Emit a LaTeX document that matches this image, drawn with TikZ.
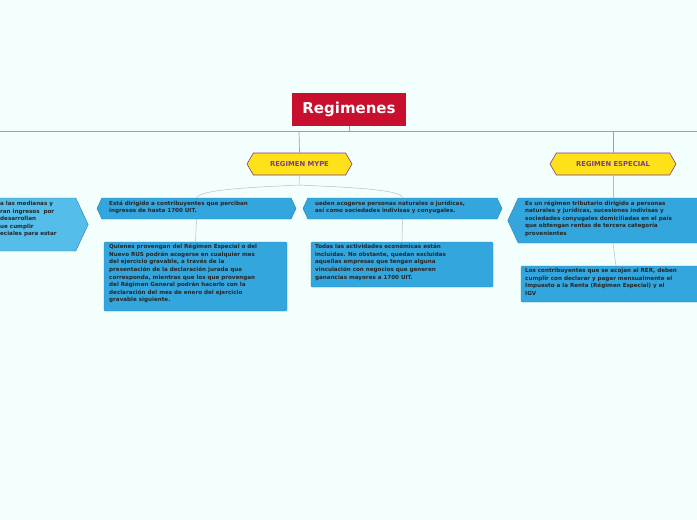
\documentclass[tikz,border=0pt]{standalone}
\usepackage{fontspec}
\setmainfont{DejaVu Sans}
\usetikzlibrary{shapes.symbols}
\definecolor{bg}{HTML}{F3FFFD}
\definecolor{tred}{HTML}{C8102E}
\definecolor{yel}{HTML}{FFE11A}
\definecolor{purp}{HTML}{7A3C8C}
\definecolor{blu}{HTML}{34A6DE}
\definecolor{blul}{HTML}{55BDEA}
\definecolor{bord}{HTML}{2F7FA8}
\definecolor{ln}{HTML}{9AA3A3}
\tikzset{
  txt/.style={font=\fontsize{5.6}{7.6}\selectfont\bfseries, text=black!85, align=left, inner sep=0pt},
  mainhead/.style={signal, signal to=west and east, signal pointer angle=120, fill=yel, draw=purp, line width=0.6pt, text=purp, font=\fontsize{6.8}{8}\selectfont\bfseries, minimum height=22pt, inner sep=0pt},
  hexbox/.style={signal, signal pointer angle=130, fill=blu, draw=bord, line width=0.4pt, minimum height=21pt, inner sep=0pt},
  rectbox/.style={fill=blu, draw=blu!80!black, line width=0.3pt, rounded corners=1pt},
  conn/.style={draw=ln, line width=0.7pt},
  thin/.style={draw=ln!70, line width=0.5pt},
}
\begin{document}
\begin{tikzpicture}[x=1pt,y=-1pt]
\useasboundingbox (0,0) rectangle (697,520);
\clip (0,0) rectangle (697,520);
\fill[bg] (0,0) rectangle (697,520);
% title
\node[fill=tred, text=white, font=\fontsize{15}{17}\selectfont\bfseries, minimum width=114pt, minimum height=33pt, inner sep=0pt] (root) at (349,109.5) {Regimenes};
\coordinate (hl) at (0,131); \coordinate (hr) at (697,131);
\draw[conn] (hl) -- (hr);
\draw[conn] (root.south) -- (349,131);
% main topics
\node[mainhead, minimum width=105pt] (mype) at (299.5,164) {REGIMEN MYPE};
\node[mainhead, minimum width=126pt] (esp) at (613,164) {REGIMEN ESPECIAL};
\draw[conn] (299,131) -- (mype.north);
\draw[conn] (613,131) -- (esp.north);
% MYPE children
\node[hexbox, signal to=west and east, minimum width=199pt] (a) at (196.5,208.5) {};
\node[txt, anchor=north west] (at) at (109,200.5) {Está dirigido a contribuyentes que perciban\\ingresos de hasta 1700 UIT.};
\node[hexbox, signal to=west and east, minimum width=199pt] (b) at (402.5,208.5) {};
\node[txt, anchor=north west] (bt) at (315,200.5) {ueden acogerse personas naturales o jurídicas,\\así como sociedades indivisas y conyugales.};
\coordinate (mb) at (299,185);
\draw[thin] (mype.south) -- (mb);
\draw[thin] (mb) .. controls (260,187) and (200,189) .. (a.north);
\draw[thin] (mb) .. controls (340,187) and (402,189) .. (b.north);
\node[rectbox, minimum width=183pt, minimum height=69pt] (a2) at (195.5,276.5) {};
\node[txt, anchor=north west] at (109,244) {Quienes provengan del Régimen Especial o del\\Nuevo RUS podrán acogerse en cualquier mes\\del ejercicio gravable, a través de la\\presentación de la declaración jurada que\\corresponda, mientras que los que provengan\\del Régimen General podrán hacerlo con la\\declaración del mes de enero del ejercicio\\gravable siguiente.};
\draw[thin] (a.south) -- (a2.north);
\node[rectbox, minimum width=182pt, minimum height=45pt] (b2) at (402,264.5) {};
\node[txt, anchor=north west] at (315,244) {Todas las actividades económicas están\\incluidas. No obstante, quedan excluidas\\aquellas empresas que tengan alguna\\vinculación con negocios que generen\\ganancias mayores a 1700 UIT.};
\draw[thin] (b.south) -- (b2.north);
% left partial
\node[hexbox, signal to=east, fill=blul, minimum width=110pt, minimum height=53pt] (l) at (27,224.5) {};
\node[txt, anchor=north west] at (0,201) {a las medianas y\\ran ingresos \ por\\ desarrollan\\ue cumplir\\eciales para estar};
% especial children
\node[hexbox, signal to=west, minimum width=200pt, minimum height=45pt] (c) at (613,220.5) {};
\node[txt, anchor=north west] at (525,200.5) {Es un régimen tributario dirigido a personas\\naturales y jurídicas, sucesiones indivisas y\\sociedades conyugales domiciliadas en el país\\que obtengan rentas de tercera categoría\\provenientes};
\node[rectbox, minimum width=190pt, minimum height=36pt] (c2) at (616,284) {};
\node[txt, anchor=north west] at (525,268) {Los contribuyentes que se acojan al RER, deben\\cumplir con declarar y pagar mensualmente el\\Impuesto a la Renta (Régimen Especial) y el\\IGV};
\draw[thin] (esp.south) -- (c.north);
\draw[thin] (c.south) -- (c2.north);
\end{tikzpicture}
\end{document}
